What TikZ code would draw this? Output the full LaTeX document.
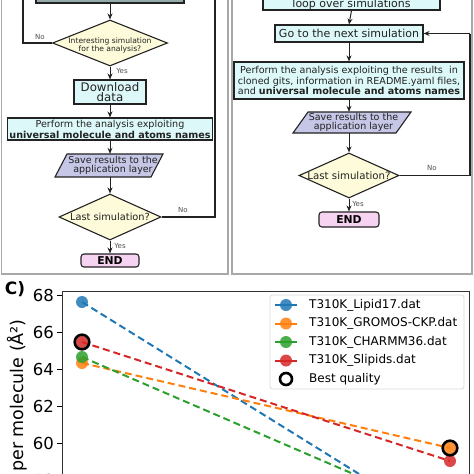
\documentclass[tikz,border=0pt]{standalone}
\usepackage{fontspec}
\setmainfont{DejaVu Sans}
\usetikzlibrary{shapes.geometric,arrows.meta}
\definecolor{cyanbox}{HTML}{DDF8F8}
\definecolor{tealgray}{HTML}{94AAAA}
\definecolor{yelbox}{HTML}{FDFBDA}
\definecolor{lavbox}{HTML}{C6C6E6}
\definecolor{pinkend}{HTML}{F7D3F2}
\definecolor{frameg}{HTML}{A8A8A8}
\definecolor{edge}{HTML}{222222}
\definecolor{tabblue}{HTML}{1F77B4}
\definecolor{taborange}{HTML}{FF7F0E}
\definecolor{tabgreen}{HTML}{2CA02C}
\definecolor{tabred}{HTML}{D62728}
\definecolor{spine}{HTML}{333333}
\tikzset{
  boxc/.style={draw=edge, line width=1.1pt, fill=cyanbox, inner sep=0pt},
  diam/.style={diamond, draw=edge, line width=1.1pt, fill=yelbox, inner sep=0pt},
  parashape/.style={draw=edge, line width=1.1pt, fill=lavbox, line join=miter},
  paratext/.style={inner sep=0pt, align=center, text=edge, font=\fontsize{9.5}{9.5}\selectfont},
  endbox/.style={draw=edge, line width=1.1pt, fill=pinkend, rounded corners=3pt, inner sep=0pt, font=\bfseries\fontsize{10.8}{12}\selectfont},
  arr/.style={-{Stealth[length=6pt,width=5pt]}, line width=1pt, draw=edge},
  loopl/.style={line width=1.1pt, draw=edge},
  small/.style={font=\fontsize{7}{8}\selectfont, text=edge!80},
  tx/.style={align=center, inner sep=0pt, text=edge},
  frm/.style={draw=frameg, line width=1.8pt},
  dl/.style={dash pattern=on 7pt off 4pt, line width=2pt},
  mk/.style={fill opacity=0.85},
  ticklab/.style={anchor=east, inner sep=0pt, font=\fontsize{16.5}{18}\selectfont},
  legtxt/.style={anchor=west, inner sep=0pt, font=\fontsize{12}{14}\selectfont}
}
\begin{document}
\begin{tikzpicture}[x=1pt,y=-1pt]
\useasboundingbox (0,0) rectangle (474,474);
% ---------- left panel ----------
\node[boxc, fill=tealgray, minimum width=148, minimum height=26] (a0) at (110,-10) {};
\node[diam, minimum width=115, minimum height=46] (d1) at (110,43) {};
\node[tx, font=\fontsize{7.6}{8}\selectfont] (d1t) at (110,45.5) {Interesting simulation\\for the analysis?};
\node[boxc, minimum width=72, minimum height=24, tx, font=\fontsize{11.8}{10.5}\selectfont] (dl) at (110,92) {Download\\data};
\node[boxc, minimum width=205, minimum height=22, tx, font=\fontsize{9.6}{11}\selectfont] (pf1) at (110,129) {Perform the analysis exploiting\\\textbf{universal molecule and atoms names}};
\draw[parashape] (67,154) -- (163,154) -- (151,177) -- (55,177) -- cycle;
\node[paratext, minimum height=23, minimum width=10] (p1) at (110,165.5) {\hspace*{6pt}Save results to the\\\hspace*{6pt}application layer};
\node[diam, minimum width=102, minimum height=46] (d2) at (110,217) {};
\node[tx, font=\fontsize{9.8}{11}\selectfont] (d2t) at (110,217) {Last simulation?};
\node[endbox, minimum width=58, minimum height=13] (e1) at (110,260.5) {END};
\draw[arr] (a0.south) -- (d1.north);
\draw[arr] (d1.south) -- (dl.north);
\draw[arr] (dl.south) -- (pf1.north);
\draw[arr] (pf1.south) -- (p1.north);
\draw[arr] (p1.south) -- (d2.north);
\draw[arr] (d2.south) -- (e1.north);
\coordinate (l1a) at (23,43);
\coordinate (l1b) at (23,-8);
\draw[loopl] (d1.west) -- (l1a) -- (l1b);
\coordinate (l2a) at (215,217);
\coordinate (l2b) at (215,-8);
\draw[loopl] (d2.east) -- (l2a) -- (l2b);
\node[small] (n1) at (40,37) {No};
\node[small] (y1) at (122,71) {Yes};
\node[small] (n2) at (183,210) {No};
\node[small] (y2) at (120,246) {Yes};
% ---------- right panel ----------
\node[boxc, minimum width=177, minimum height=30] (b0) at (351.5,-5) {};
\node[tx, font=\fontsize{11}{12}\selectfont] (b0t) at (351.5,4) {loop over simulations};
\node[boxc, minimum width=148, minimum height=17, tx, font=\fontsize{11}{12}\selectfont] (go) at (349,33.5) {Go to the next simulation};
\node[boxc, minimum width=230, minimum height=37, tx, font=\fontsize{9.6}{10.6}\selectfont] (pf2) at (349,80.5) {Perform the analysis exploiting the results\ \ in\\cloned gits, information in README.yaml files,\\and \textbf{universal molecule and atoms names}};
\draw[parashape] (308,112) -- (411,112) -- (396,133) -- (293,133) -- cycle;
\node[paratext, minimum height=21, minimum width=10] (p2) at (350,122.5) {\hspace*{7pt}Save results to the\\\hspace*{7pt}application layer};
\node[diam, minimum width=100, minimum height=45] (d3) at (349,175.5) {};
\node[tx, font=\fontsize{10.2}{11}\selectfont] (d3t) at (349,175.5) {Last simulation?};
\node[endbox, minimum width=60, minimum height=15] (e2) at (349,219.5) {END};
\draw[arr] (b0.south) -- (go.north);
\draw[arr] (go.south) -- (pf2.north);
\draw[arr] (pf2.south) -- (pf2.south |- p2.north);
\draw[arr] (p2.south -| d3.north) -- (d3.north);
\draw[arr] (d3.south) -- (e2.north);
\coordinate (r1a) at (470,175.5);
\coordinate (r1b) at (470,33.5);
\draw[loopl] (d3.east) -- (r1a) -- (r1b);
\draw[arr] (r1b) -- (go.east);
\node[small] (n3) at (432,168) {No};
\node[small] (y3) at (358,204) {Yes};
% frames
\draw[frm] (1.5,-8) -- (1.5,274) -- (228,274) -- (228,-8);
\draw[frm] (232,-8) -- (232,274) -- (472,274) -- (472,-8);
% ---------- chart ----------
\node[inner sep=0pt, font=\bfseries\fontsize{17}{18}\selectfont] (clab) at (15,289) {C)};
\draw[spine, line width=1pt] (62,490) -- (62,291) -- (469,291) -- (469,490);
\foreach \v/\yy in {68/295,66/332,64/369,62/406,60/443,58/480}{
  \draw[line width=0.9pt] (57,\yy) -- (62,\yy);
  \node[ticklab] at (54,\yy) {\v};
}
\node[rotate=90, anchor=east, inner sep=0pt, font=\fontsize{17.5}{18}\selectfont] (ylab) at (17,319) {Area per molecule (Å²)};
% data
\coordinate (bL) at (82,302); \coordinate (bM) at (372,482);
\coordinate (gL) at (82,357); \coordinate (gM) at (372,482);
\coordinate (oL) at (82,363); \coordinate (oR) at (450,448);
\coordinate (rL) at (82,342); \coordinate (rR) at (450,461);
\draw[dl, tabblue] (bL) -- (bM);
\draw[dl, taborange] (oL) -- (oR);
\draw[dl, tabgreen] (gL) -- (gM);
\draw[dl, tabred] (rL) -- (rR);
\fill[mk, tabblue] (bL) circle (6);
\fill[mk, taborange] (oL) circle (6);
\fill[mk, tabgreen] (gL) circle (6);
\fill[mk, tabred] (rL) circle (6);
\fill[mk, taborange] (oR) circle (6);
\fill[mk, tabred] (rR) circle (6);
\fill[mk, tabblue] (bM) circle (6);
\draw[black, line width=2.6pt] (rL) circle (7.3);
\draw[black, line width=2.6pt] (oR) circle (7.3);
% legend
\draw[draw=black!15, fill=white, fill opacity=0.85, rounded corners=2.5pt, line width=0.8pt] (270,295) rectangle (464,389);
\foreach \c/\yy/\t in {tabblue/305/T310K\_Lipid17.dat, taborange/323.5/T310K\_GROMOS-CKP.dat, tabgreen/342/T310K\_CHARMM36.dat, tabred/360.5/T310K\_Slipids.dat}{
  \draw[line width=2pt, \c] (275,\yy) -- (297,\yy);
  \fill[mk, \c] (286,\yy) circle (6);
  \node[legtxt] at (309,\yy) {\t};
}
\draw[black, line width=2.6pt] (286,379) circle (6);
\node[legtxt] (lbest) at (309,379) {Best quality};
\end{tikzpicture}
\end{document}
